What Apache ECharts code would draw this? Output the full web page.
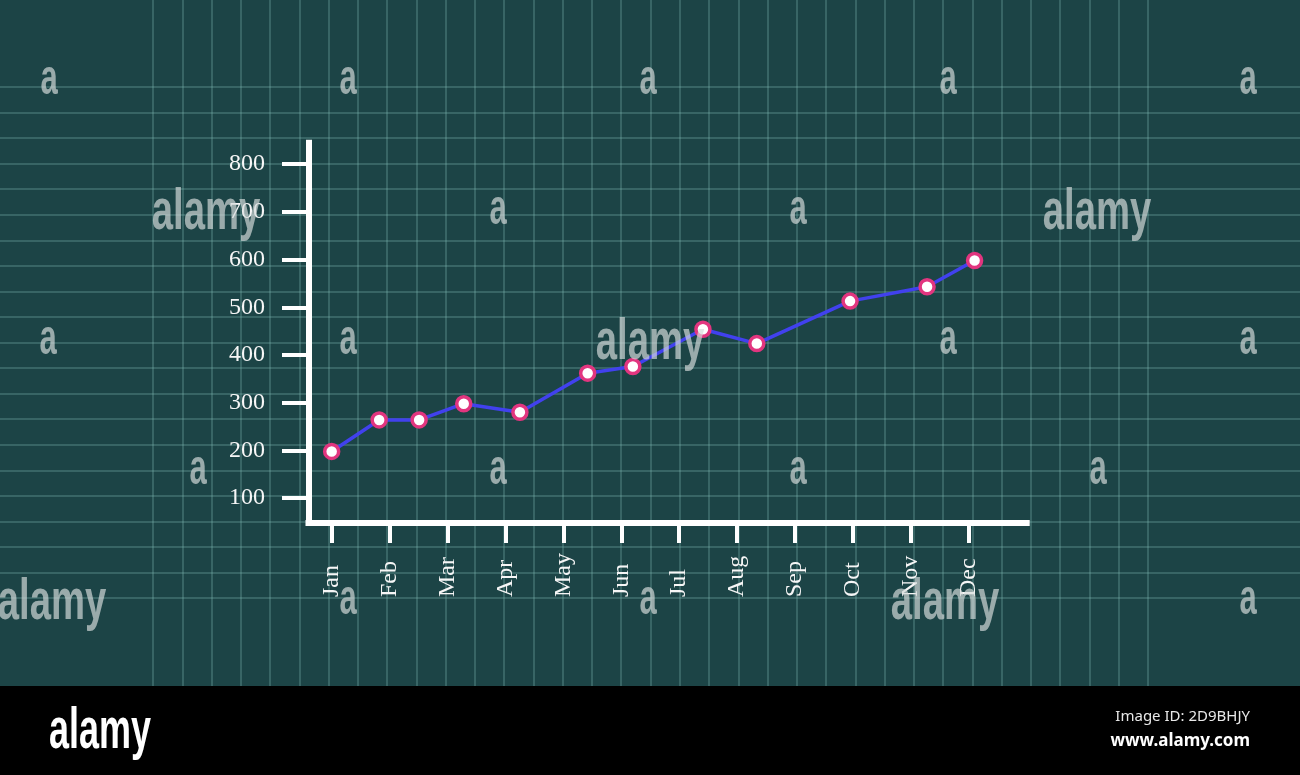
<!DOCTYPE html>
<html>
<head>
<meta charset="utf-8">
<title>Monthly chart</title>
<script src="https://cdn.jsdelivr.net/npm/echarts@6.0.0/dist/echarts.min.js"></script>
<style>
  html, body { margin: 0; padding: 0; background: #1c4446; }
  #main { width: 1300px; height: 775px; }
</style>
</head>
<body>
<div id="main"></div>
<script>
// data
var months = ['Jan', 'Feb', 'Mar', 'Apr', 'May', 'Jun', 'Jul', 'Aug', 'Sep', 'Oct', 'Nov', 'Dec']
// where each point sits along the month axis (0 = Jan tick)
var monthPos = [0, 0.82, 1.51, 2.28, 3.25, 4.42, 5.2, 6.41, 7.34, 8.95, 10.28, 11.1]
var values = [198, 264, 264, 298, 280, 362, 376, 454, 424, 513, 543, 598]
var yTicks = [100, 200, 300, 400, 500, 600, 700, 800]
var monthTicks = [0, 1, 2, 3, 4, 5, 6, 7, 8, 9, 10, 11]

var seriesData = monthPos.map(function (x, i) { return [x, values[i]] })

var serif = 'Liberation Serif'
var wmColor = 'rgba(214,220,220,0.68)'

/* watermark pieces */
var wmSmall = [
  [49, 80], [348, 80], [648, 80], [948, 80], [1248, 80],
  [498, 210], [798, 210],
  [48, 340], [348, 340], [948, 340], [1248, 340],
  [198, 470], [498, 470], [798, 470], [1098, 470],
  [348, 600], [648, 600], [1248, 600]
]
var wmBig = [[206, 213], [1097, 213], [650, 343], [52, 603], [945, 603]]

var graphics = []
graphics.push({
  type: 'rect', left: 0, top: 686, z: 90,
  shape: { width: 1300, height: 89 },
  style: { fill: '#000000' }
})
wmSmall.forEach(function (p) {
  graphics.push({
    type: 'text', x: p[0], y: p[1], scaleX: 0.62, z: 100,
    style: { text: 'a', fill: wmColor, font: 'bold 50px "Liberation Sans"', textAlign: 'center', textVerticalAlign: 'middle' }
  })
})
wmBig.forEach(function (p) {
  graphics.push({
    type: 'text', x: p[0], y: p[1], scaleX: 0.66, z: 100,
    style: { text: 'alamy', fill: wmColor, font: 'bold 58px "Liberation Sans"', textAlign: 'center', textVerticalAlign: 'middle' }
  })
})
graphics.push({
  type: 'text', x: 100, y: 732, scaleX: 0.62, z: 101,
  style: { text: 'alamy', fill: '#ffffff', font: 'bold 58px "Liberation Sans"', textAlign: 'center', textVerticalAlign: 'middle' }
})
graphics.push({
  type: 'text', x: 1250, y: 717, z: 101,
  style: { text: 'Image ID: 2D9BHJY', fill: '#e8e8e8', font: '15px "Noto Sans"', textAlign: 'right', textVerticalAlign: 'middle' }
})
graphics.push({
  type: 'text', x: 1250, y: 741, z: 101,
  style: { text: 'www.alamy.com', fill: '#ffffff', font: 'bold 17px "Noto Sans"', textAlign: 'right', textVerticalAlign: 'middle' }
})

var gridLine = { show: true, lineStyle: { color: 'rgba(135,195,185,0.36)', width: 1.5 } }
var hidden = { show: false }

var chart = echarts.init(document.getElementById('main'))

var option = {
  backgroundColor: '#1c4446',
  animation: false,
  grid: [
    { left: 308.5, right: 273.3, top: 142.7, bottom: 252 },
    /* background paper grid */
    { left: 153, right: 152, top: 0, bottom: 89 },
    { left: 0, right: 0, top: 87, bottom: 177 }
  ],
  xAxis: [
    {
      type: 'value', gridIndex: 0, min: -0.4, max: 12,
      axisLine: { show: true, onZero: false, lineStyle: { color: '#ffffff', width: 6, cap: 'square' } },
      axisTick: { show: true, customValues: monthTicks, length: 20, lineStyle: { color: '#ffffff', width: 4 } },
      axisLabel: {
        customValues: monthTicks,
        formatter: function (v) { return months[Math.round(v)] },
        rotate: 90, align: 'left', verticalAlign: 'middle', margin: 74,
        color: '#f6f6f6', fontFamily: serif, fontSize: 24
      },
      splitLine: hidden
    },
    {
      type: 'value', gridIndex: 1, min: 0, max: 34, interval: 1,
      axisLine: hidden, axisTick: hidden, axisLabel: hidden, splitLine: gridLine
    },
    {
      type: 'value', gridIndex: 2, min: 0, max: 1,
      axisLine: hidden, axisTick: hidden, axisLabel: hidden, splitLine: hidden
    }
  ],
  yAxis: [
    {
      type: 'value', gridIndex: 0, min: 48, max: 845,
      axisLine: { show: true, onZero: false, lineStyle: { color: '#ffffff', width: 6, cap: 'square' } },
      axisTick: { show: true, customValues: yTicks, length: 26.5, lineStyle: { color: '#ffffff', width: 4 } },
      axisLabel: {
        customValues: yTicks, margin: 43.5,
        color: '#f6f6f6', fontFamily: serif, fontSize: 24
      },
      splitLine: hidden
    },
    {
      type: 'value', gridIndex: 1, min: 0, max: 1,
      axisLine: hidden, axisTick: hidden, axisLabel: hidden, splitLine: hidden
    },
    {
      type: 'value', gridIndex: 2, min: 0, max: 20, interval: 1,
      axisLine: hidden, axisTick: hidden, axisLabel: hidden, splitLine: gridLine
    }
  ],
  series: [
    {
      type: 'line', xAxisIndex: 0, yAxisIndex: 0,
      data: seriesData,
      symbol: 'circle', symbolSize: 14, z: 5,
      lineStyle: { color: '#4141ee', width: 3.5 },
      itemStyle: { color: '#ffffff', borderColor: '#e2357f', borderWidth: 3.5 }
    }
  ],
  graphic: graphics
}

chart.setOption(option)
</script>
</body>
</html>
